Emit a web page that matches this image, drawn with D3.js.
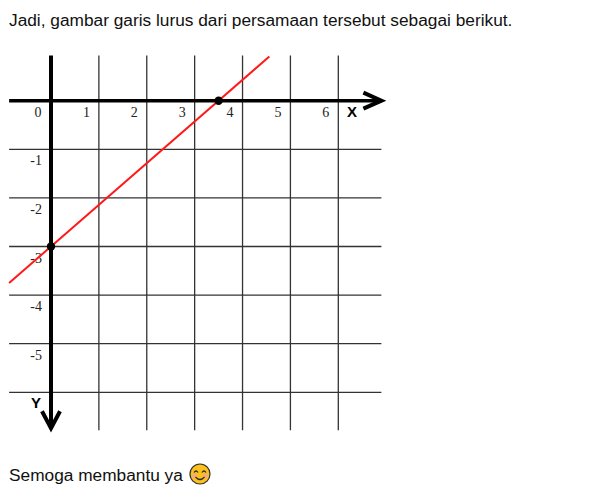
<!DOCTYPE html>
<html><head><meta charset="utf-8">
<script src="https://cdn.jsdelivr.net/npm/d3@7"></script>
<style>html,body{margin:0;padding:0;background:#fff;}svg{display:block;}</style>
</head><body>
<script>
// ---- data ----
const titleText = "Jadi, gambar garis lurus dari persamaan tersebut sebagai berikut.";
const footerText = "Semoga membantu ya";
const xTicks = [1, 2, 3, 4, 5, 6];
const xTickLabels = ["1", "2", "3", "4", "5", "6"];
const yTicks = [-1, -2, -3, -4, -5, -6];
const yTickLabels = ["-1", "-2", "-3", "-4", "-5"];
const originLabel = "0";
const xDomain = [-0.875, 6.9];     // grid extent in units
const yDomain = [0.93, -6.78];
const lineStart = [-0.875, -3.75];  // red line endpoints
const lineEnd = [4.56, 0.91];
const intercepts = [[0, -3], [3.5, 0]];

const W = 602, H = 497;
const svg = d3.select("body").append("svg").attr("width", W).attr("height", H);

const x = d3.scaleLinear().domain([0, 6]).range([51, 338.3]);
const y = d3.scaleLinear().domain([0, -6]).range([100.7, 392.3]);

// title
svg.append("text").attr("x", 9).attr("y", 26)
  .attr("font-family", "Liberation Sans, Arial, sans-serif").attr("font-size", 17.3)
  .attr("fill", "#111").text(titleText);

// grid
const g = svg.append("g");
g.selectAll("line.v").data(xTicks).join("line")
  .attr("x1", d => x(d)).attr("x2", d => x(d))
  .attr("y1", y(yDomain[0])).attr("y2", y(yDomain[1]))
  .attr("stroke", "#333").attr("stroke-width", 1.3);
g.selectAll("line.h").data(yTicks).join("line")
  .attr("y1", d => y(d)).attr("y2", d => y(d))
  .attr("x1", x(xDomain[0])).attr("x2", x(xDomain[1]))
  .attr("stroke", "#333").attr("stroke-width", 1.3);

// axes
g.append("line").attr("x1", x(xDomain[0])).attr("x2", x(xDomain[1]) - 2)
  .attr("y1", y(0)).attr("y2", y(0)).attr("stroke", "#000").attr("stroke-width", 3.6);
g.append("line").attr("x1", x(0)).attr("x2", x(0))
  .attr("y1", y(yDomain[0])).attr("y2", y(yDomain[1]) - 4).attr("stroke", "#000").attr("stroke-width", 4);

// arrow heads
const xt = x(xDomain[1]), yt = y(0);
g.append("path").attr("d", `M${xt-18},${yt-8} L${xt},${yt} L${xt-18},${yt+8}`)
  .attr("fill", "none").attr("stroke", "#000").attr("stroke-width", 4).attr("stroke-linejoin", "miter");
const ax = x(0), ay = y(yDomain[1]) - 2;
g.append("path").attr("d", `M${ax-9},${ay-17} L${ax},${ay} L${ax+9},${ay-17}`)
  .attr("fill", "none").attr("stroke", "#000").attr("stroke-width", 4).attr("stroke-linejoin", "miter");

// tick labels
const serif = "Liberation Serif, Times New Roman, serif";
g.selectAll("text.xl").data(xTicks).join("text")
  .attr("x", d => x(d) - 12.5).attr("y", y(0) + 16)
  .attr("text-anchor", "middle").attr("font-family", serif).attr("font-size", 14)
  .attr("fill", "#222").text((d, i) => xTickLabels[i]);
g.append("text").attr("x", x(0) - 13).attr("y", y(0) + 16)
  .attr("text-anchor", "middle").attr("font-family", serif).attr("font-size", 14)
  .attr("fill", "#222").text(originLabel);
g.selectAll("text.yl").data(yTicks.slice(0, yTickLabels.length)).join("text")
  .attr("x", x(0) - 9).attr("y", d => y(d) + 16)
  .attr("text-anchor", "end").attr("font-family", serif).attr("font-size", 14)
  .attr("fill", "#222").text((d, i) => yTickLabels[i]);

// axis names
const sans = "Liberation Sans, Arial, sans-serif";
g.append("text").attr("x", 352).attr("y", y(0) + 16).attr("text-anchor", "middle")
  .attr("font-family", sans).attr("font-weight", "bold").attr("font-size", 15).text("X");
g.append("text").attr("x", 36).attr("y", 408).attr("text-anchor", "middle")
  .attr("font-family", sans).attr("font-weight", "bold").attr("font-size", 15).text("Y");

// red line
g.append("line").attr("x1", x(lineStart[0])).attr("y1", y(lineStart[1]))
  .attr("x2", x(lineEnd[0])).attr("y2", y(lineEnd[1]))
  .attr("stroke", "#ff1a1a").attr("stroke-width", 2);

// intercept points
g.selectAll("circle.pt").data(intercepts).join("circle")
  .attr("cx", d => x(d[0])).attr("cy", d => y(d[1])).attr("r", 4.2).attr("fill", "#000");

// footer
svg.append("text").attr("x", 9).attr("y", 481)
  .attr("font-family", sans).attr("font-size", 17.3).attr("fill", "#111").text(footerText);

// smiling face emoji drawn with shapes
const e = svg.append("g").attr("transform", "translate(200,474)");
e.append("circle").attr("r", 10).attr("fill", "#fcc21b").attr("stroke", "#2f2f2f").attr("stroke-width", 1.2);
e.append("circle").attr("cx", -5.5).attr("cy", 2).attr("r", 2.4).attr("fill", "#f4a0a0").attr("opacity", 0.8);
e.append("circle").attr("cx", 5.5).attr("cy", 2).attr("r", 2.4).attr("fill", "#f4a0a0").attr("opacity", 0.8);
e.append("path").attr("d", "M-6,-1.5 Q-4,-4.5 -2,-1.5").attr("fill", "none").attr("stroke", "#2f2f2f").attr("stroke-width", 1.3);
e.append("path").attr("d", "M2,-1.5 Q4,-4.5 6,-1.5").attr("fill", "none").attr("stroke", "#2f2f2f").attr("stroke-width", 1.3);
e.append("path").attr("d", "M-4.5,3 Q0,8 4.5,3").attr("fill", "none").attr("stroke", "#2f2f2f").attr("stroke-width", 1.3);
</script>
</body></html>
